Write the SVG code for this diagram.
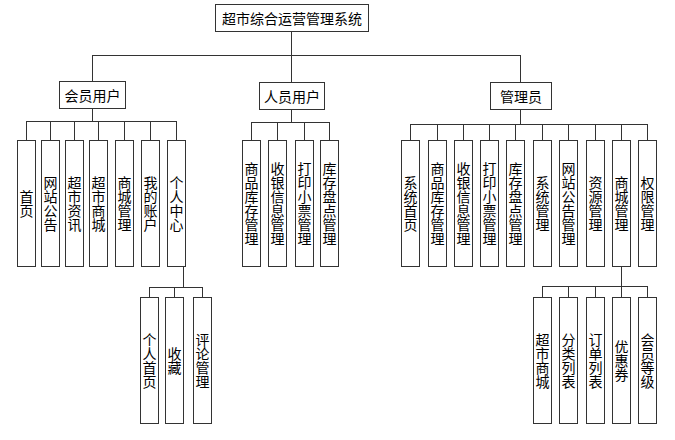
<svg xmlns="http://www.w3.org/2000/svg" width="675" height="440" viewBox="0 0 675 440">
<style>
.b{fill:#fff;stroke:#333;stroke-width:1}
.l{fill:none;stroke:#333;stroke-width:1}
text{font-family:"Noto Sans CJK SC","Liberation Sans",sans-serif;font-size:14px;fill:#000;text-anchor:middle;dominant-baseline:central}
</style>
<rect width="675" height="440" fill="#fff"/>
<g id="connectors" class="l">
<path d="M291.5 31V82 M92.5 55.5H520.5 M92.5 55V81 M520.5 55V82"/>
<path d="M92.5 108V121.5 M26.5 121.5H176.5 M26.5 121V140 M50.5 121V140 M74.5 121V140 M98.5 121V140 M124.5 121V140 M150.5 121V140 M176.5 121V140"/>
<path d="M291.5 109V122.5 M251.5 122.5H329.5 M251.5 122V140 M277.5 122V140 M304.5 122V140 M329.5 122V140"/>
<path d="M520.5 109V124.5 M410.5 124.5H647.5 M410.5 124V140 M437.5 124V140 M463.5 124V140 M489.5 124V140 M515.5 124V140 M542.5 124V140 M568.5 124V140 M595.5 124V140 M621.5 124V140 M647.5 124V140"/>
<path d="M183.5 266V287.5 M149.5 287.5H202.5 M149.5 287V297 M174.5 287V297 M202.5 287V297"/>
<path d="M621.5 266V286.5 M542.5 286.5H647.5 M542.5 286V297 M568.5 286V297 M595.5 286V297 M621.5 286V297 M647.5 286V297"/>
</g>
<g id="root"><rect class="b" x="215.5" y="4.5" width="153" height="27"/><text x="292" y="18">超市综合运营管理系统</text></g>
<g id="member"><rect class="b" x="59.5" y="81.5" width="66" height="27"/><text x="92.5" y="95">会员用户</text></g>
<g id="staff"><rect class="b" x="259.5" y="82.5" width="65" height="27"/><text x="292" y="96">人员用户</text></g>
<g id="admin"><rect class="b" x="490.5" y="82.5" width="61" height="27"/><text x="521" y="96">管理员</text></g>

<g id="m1"><rect class="b" x="17.5" y="140.5" width="18" height="126"/><text><tspan x="26.5" y="196">首</tspan><tspan x="26.5" y="210">页</tspan></text></g>
<g id="m2"><rect class="b" x="41.5" y="140.5" width="18" height="126"/><text><tspan x="50.5" y="182">网</tspan><tspan x="50.5" y="196">站</tspan><tspan x="50.5" y="210">公</tspan><tspan x="50.5" y="224">告</tspan></text></g>
<g id="m3"><rect class="b" x="65.5" y="140.5" width="18" height="126"/><text><tspan x="74.5" y="182">超</tspan><tspan x="74.5" y="196">市</tspan><tspan x="74.5" y="210">资</tspan><tspan x="74.5" y="224">讯</tspan></text></g>
<g id="m4"><rect class="b" x="89.5" y="140.5" width="18" height="126"/><text><tspan x="98.5" y="182">超</tspan><tspan x="98.5" y="196">市</tspan><tspan x="98.5" y="210">商</tspan><tspan x="98.5" y="224">城</tspan></text></g>
<g id="m5"><rect class="b" x="115.5" y="140.5" width="18" height="126"/><text><tspan x="124.5" y="182">商</tspan><tspan x="124.5" y="196">城</tspan><tspan x="124.5" y="210">管</tspan><tspan x="124.5" y="224">理</tspan></text></g>
<g id="m6"><rect class="b" x="141.5" y="140.5" width="18" height="126"/><text><tspan x="150.5" y="182">我</tspan><tspan x="150.5" y="196">的</tspan><tspan x="150.5" y="210">账</tspan><tspan x="150.5" y="224">户</tspan></text></g>
<g id="m7"><rect class="b" x="167.5" y="140.5" width="18" height="126"/><text><tspan x="176.5" y="182">个</tspan><tspan x="176.5" y="196">人</tspan><tspan x="176.5" y="210">中</tspan><tspan x="176.5" y="224">心</tspan></text></g>

<g id="s1"><rect class="b" x="242.5" y="140.5" width="18" height="126"/><text><tspan x="251.5" y="168">商</tspan><tspan x="251.5" y="182">品</tspan><tspan x="251.5" y="196">库</tspan><tspan x="251.5" y="210">存</tspan><tspan x="251.5" y="224">管</tspan><tspan x="251.5" y="238">理</tspan></text></g>
<g id="s2"><rect class="b" x="268.5" y="140.5" width="18" height="126"/><text><tspan x="277.5" y="168">收</tspan><tspan x="277.5" y="182">银</tspan><tspan x="277.5" y="196">信</tspan><tspan x="277.5" y="210">息</tspan><tspan x="277.5" y="224">管</tspan><tspan x="277.5" y="238">理</tspan></text></g>
<g id="s3"><rect class="b" x="295.5" y="140.5" width="18" height="126"/><text><tspan x="304.5" y="168">打</tspan><tspan x="304.5" y="182">印</tspan><tspan x="304.5" y="196">小</tspan><tspan x="304.5" y="210">票</tspan><tspan x="304.5" y="224">管</tspan><tspan x="304.5" y="238">理</tspan></text></g>
<g id="s4"><rect class="b" x="320.5" y="140.5" width="18" height="126"/><text><tspan x="329.5" y="168">库</tspan><tspan x="329.5" y="182">存</tspan><tspan x="329.5" y="196">盘</tspan><tspan x="329.5" y="210">点</tspan><tspan x="329.5" y="224">管</tspan><tspan x="329.5" y="238">理</tspan></text></g>

<g id="a1"><rect class="b" x="401.5" y="140.5" width="18" height="126"/><text><tspan x="410.5" y="182">系</tspan><tspan x="410.5" y="196">统</tspan><tspan x="410.5" y="210">首</tspan><tspan x="410.5" y="224">页</tspan></text></g>
<g id="a2"><rect class="b" x="428.5" y="140.5" width="18" height="126"/><text><tspan x="437.5" y="168">商</tspan><tspan x="437.5" y="182">品</tspan><tspan x="437.5" y="196">库</tspan><tspan x="437.5" y="210">存</tspan><tspan x="437.5" y="224">管</tspan><tspan x="437.5" y="238">理</tspan></text></g>
<g id="a3"><rect class="b" x="454.5" y="140.5" width="18" height="126"/><text><tspan x="463.5" y="168">收</tspan><tspan x="463.5" y="182">银</tspan><tspan x="463.5" y="196">信</tspan><tspan x="463.5" y="210">息</tspan><tspan x="463.5" y="224">管</tspan><tspan x="463.5" y="238">理</tspan></text></g>
<g id="a4"><rect class="b" x="480.5" y="140.5" width="18" height="126"/><text><tspan x="489.5" y="168">打</tspan><tspan x="489.5" y="182">印</tspan><tspan x="489.5" y="196">小</tspan><tspan x="489.5" y="210">票</tspan><tspan x="489.5" y="224">管</tspan><tspan x="489.5" y="238">理</tspan></text></g>
<g id="a5"><rect class="b" x="506.5" y="140.5" width="18" height="126"/><text><tspan x="515.5" y="168">库</tspan><tspan x="515.5" y="182">存</tspan><tspan x="515.5" y="196">盘</tspan><tspan x="515.5" y="210">点</tspan><tspan x="515.5" y="224">管</tspan><tspan x="515.5" y="238">理</tspan></text></g>
<g id="a6"><rect class="b" x="533.5" y="140.5" width="18" height="126"/><text><tspan x="542.5" y="182">系</tspan><tspan x="542.5" y="196">统</tspan><tspan x="542.5" y="210">管</tspan><tspan x="542.5" y="224">理</tspan></text></g>
<g id="a7"><rect class="b" x="559.5" y="140.5" width="18" height="126"/><text><tspan x="568.5" y="168">网</tspan><tspan x="568.5" y="182">站</tspan><tspan x="568.5" y="196">公</tspan><tspan x="568.5" y="210">告</tspan><tspan x="568.5" y="224">管</tspan><tspan x="568.5" y="238">理</tspan></text></g>
<g id="a8"><rect class="b" x="586.5" y="140.5" width="18" height="126"/><text><tspan x="595.5" y="182">资</tspan><tspan x="595.5" y="196">源</tspan><tspan x="595.5" y="210">管</tspan><tspan x="595.5" y="224">理</tspan></text></g>
<g id="a9"><rect class="b" x="612.5" y="140.5" width="18" height="126"/><text><tspan x="621.5" y="182">商</tspan><tspan x="621.5" y="196">城</tspan><tspan x="621.5" y="210">管</tspan><tspan x="621.5" y="224">理</tspan></text></g>
<g id="a10"><rect class="b" x="638.5" y="140.5" width="18" height="126"/><text><tspan x="647.5" y="182">权</tspan><tspan x="647.5" y="196">限</tspan><tspan x="647.5" y="210">管</tspan><tspan x="647.5" y="224">理</tspan></text></g>

<g id="p1"><rect class="b" x="140.5" y="297.5" width="18" height="126"/><text><tspan x="149.5" y="339">个</tspan><tspan x="149.5" y="353">人</tspan><tspan x="149.5" y="367">首</tspan><tspan x="149.5" y="381">页</tspan></text></g>
<g id="p2"><rect class="b" x="165.5" y="297.5" width="18" height="126"/><text><tspan x="174.5" y="353">收</tspan><tspan x="174.5" y="367">藏</tspan></text></g>
<g id="p3"><rect class="b" x="193.5" y="297.5" width="18" height="126"/><text><tspan x="202.5" y="339">评</tspan><tspan x="202.5" y="353">论</tspan><tspan x="202.5" y="367">管</tspan><tspan x="202.5" y="381">理</tspan></text></g>

<g id="c1"><rect class="b" x="533.5" y="297.5" width="18" height="126"/><text><tspan x="542.5" y="339">超</tspan><tspan x="542.5" y="353">市</tspan><tspan x="542.5" y="367">商</tspan><tspan x="542.5" y="381">城</tspan></text></g>
<g id="c2"><rect class="b" x="559.5" y="297.5" width="18" height="126"/><text><tspan x="568.5" y="339">分</tspan><tspan x="568.5" y="353">类</tspan><tspan x="568.5" y="367">列</tspan><tspan x="568.5" y="381">表</tspan></text></g>
<g id="c3"><rect class="b" x="586.5" y="297.5" width="18" height="126"/><text><tspan x="595.5" y="339">订</tspan><tspan x="595.5" y="353">单</tspan><tspan x="595.5" y="367">列</tspan><tspan x="595.5" y="381">表</tspan></text></g>
<g id="c4"><rect class="b" x="612.5" y="297.5" width="18" height="126"/><text><tspan x="621.5" y="346">优</tspan><tspan x="621.5" y="360">惠</tspan><tspan x="621.5" y="374">券</tspan></text></g>
<g id="c5"><rect class="b" x="638.5" y="297.5" width="18" height="126"/><text><tspan x="647.5" y="339">会</tspan><tspan x="647.5" y="353">员</tspan><tspan x="647.5" y="367">等</tspan><tspan x="647.5" y="381">级</tspan></text></g>
</svg>
